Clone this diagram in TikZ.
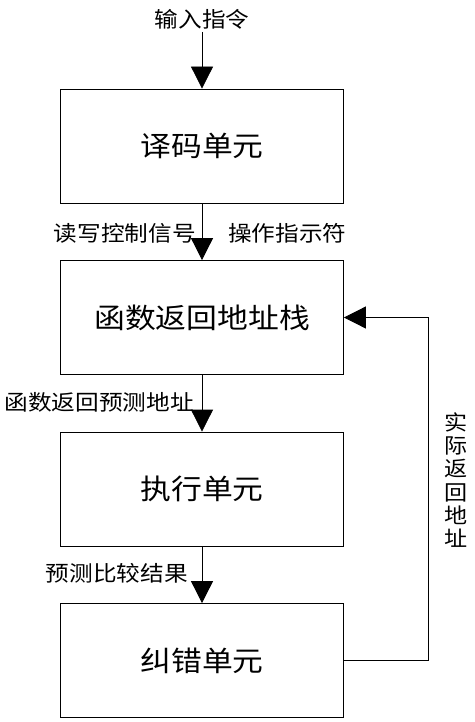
\documentclass[tikz,border=0pt]{standalone}
\usepackage{fontspec}
\newfontfamily\cjk[FakeStretch=1.1]{Noto Sans CJK SC}
\usetikzlibrary{arrows.meta}
\begin{document}
\begin{tikzpicture}[x=1pt,y=-1pt,
  box/.style={draw,line width=0.8pt,minimum width=283pt,minimum height=114pt,inner sep=0pt,font=\cjk\fontsize{28}{30}\selectfont},
  lbl/.style={inner sep=0pt,font=\cjk\fontsize{21.5}{23}\selectfont},
  conn/.style={line width=0.8pt,-{Triangle[width=22pt,length=22pt]}}]
\fill[white] (0,0) rectangle (474,722);
\useasboundingbox (0,0) rectangle (474,722);
\node[box] (dec) at (202,146) {译码单元};
\node[box] (ras) at (202,317.5) {函数返回地址栈};
\node[box] (exe) at (202,489) {执行单元};
\node[box] (cor) at (202,660.5) {纠错单元};
\coordinate (in) at (202,32);
\coordinate (fb) at (428,660.5);
\node[lbl] (inlbl) at (202,19) {输入指令};
\node[lbl,anchor=east] (rw) at (196,233) {读写控制信号};
\node[lbl,anchor=west] (op) at (228,233) {操作指示符};
\node[lbl,anchor=east] (pred) at (194,402) {函数返回预测地址};
\node[lbl,anchor=east] (cmp) at (188,573) {预测比较结果};
\node[lbl,align=center,font=\cjk\fontsize{21}{23.3}\selectfont] (act) at (456,480) {实\\际\\返\\回\\地\\址};
\draw[conn] (in) -- (dec.north);
\draw[conn] (dec) -- (ras);
\draw[conn] (ras) -- (exe);
\draw[conn] (exe) -- (cor);
\draw[conn] (cor.east) -- (fb) |- (ras.east);
\end{tikzpicture}
\end{document}
